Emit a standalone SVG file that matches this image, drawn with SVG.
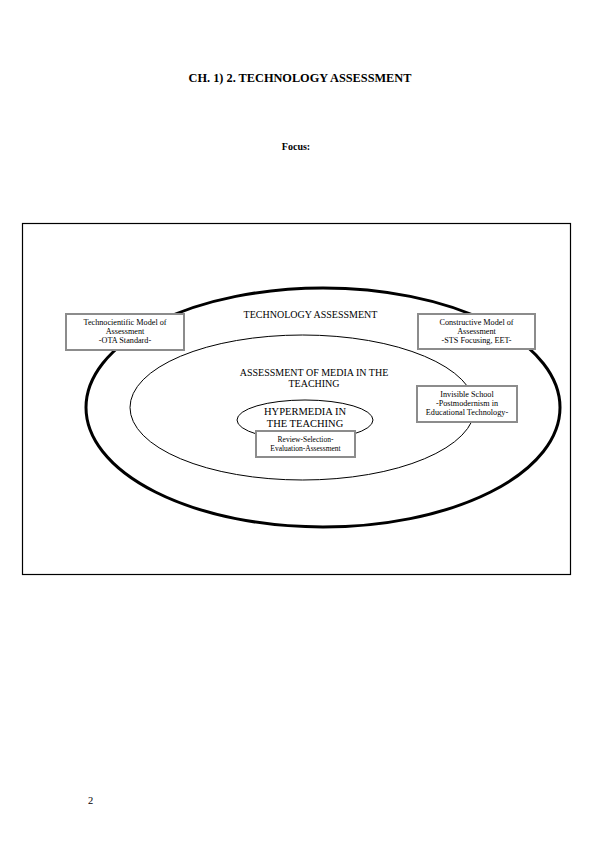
<svg xmlns="http://www.w3.org/2000/svg" width="595" height="842" viewBox="0 0 595 842">
<style>
text{font-family:"Liberation Serif","Times New Roman",serif;fill:#000}
.t{font-size:10.5px;font-weight:bold;text-anchor:middle}
.l{font-size:10px;text-anchor:middle}
.s{font-size:8.2px;text-anchor:middle}
.box{fill:#fff;stroke:#8c8c8c;stroke-width:2}
</style>
<rect width="595" height="842" fill="#fff"/>
<text class="t" x="300" y="82" style="font-size:12.3px">CH. 1) 2. TECHNOLOGY ASSESSMENT</text>
<text class="t" x="296" y="150" style="font-size:10px">Focus:</text>
<rect id="frame" x="22.5" y="223.5" width="548" height="351" fill="none" stroke="#000" stroke-width="1.2"/>
<g id="connectors"></g>
<g id="outer">
<ellipse cx="323" cy="407.5" rx="237" ry="119.5" fill="none" stroke="#000" stroke-width="3"/>
<text class="l" x="310.5" y="318">TECHNOLOGY ASSESSMENT</text>
</g>
<g id="middle">
<ellipse cx="302.5" cy="407.5" rx="172.5" ry="72.5" fill="none" stroke="#000" stroke-width="1"/>
<text class="l" x="314" y="376">ASSESSMENT OF MEDIA IN THE</text>
<text class="l" x="314" y="387">TEACHING</text>
</g>
<g id="inner">
<ellipse cx="305" cy="420" rx="68" ry="20" fill="#fff" stroke="#000" stroke-width="1"/>
<text class="l" x="305" y="415" style="font-size:10.5px">HYPERMEDIA IN</text>
<text class="l" x="305" y="427" style="font-size:10.5px">THE TEACHING</text>
</g>
<g id="review">
<rect class="box" x="256" y="431" width="99" height="26"/>
<text class="s" x="305.5" y="442" style="font-size:7.5px">Review-Selection-</text>
<text class="s" x="305.5" y="451" style="font-size:7.5px">Evaluation-Assessment</text>
</g>
<g id="technocientific">
<rect class="box" x="66" y="314" width="118" height="36"/>
<text class="s" x="125" y="325">Technocientific Model of</text>
<text class="s" x="125" y="334">Assessment</text>
<text class="s" x="125" y="343">-OTA Standard-</text>
</g>
<g id="constructive">
<rect class="box" x="418" y="314" width="117" height="35"/>
<text class="s" x="476.5" y="325">Constructive Model of</text>
<text class="s" x="476.5" y="334">Assessment</text>
<text class="s" x="476.5" y="343">-STS Focusing, EET-</text>
</g>
<g id="invisible">
<rect class="box" x="417" y="386" width="100" height="36"/>
<text class="s" x="467" y="397">Invisible School</text>
<text class="s" x="467" y="406">-Postmodernism in</text>
<text class="s" x="467" y="415">Educational Technology-</text>
</g>
<text x="88" y="804" style="font-size:10.5px">2</text>
</svg>
